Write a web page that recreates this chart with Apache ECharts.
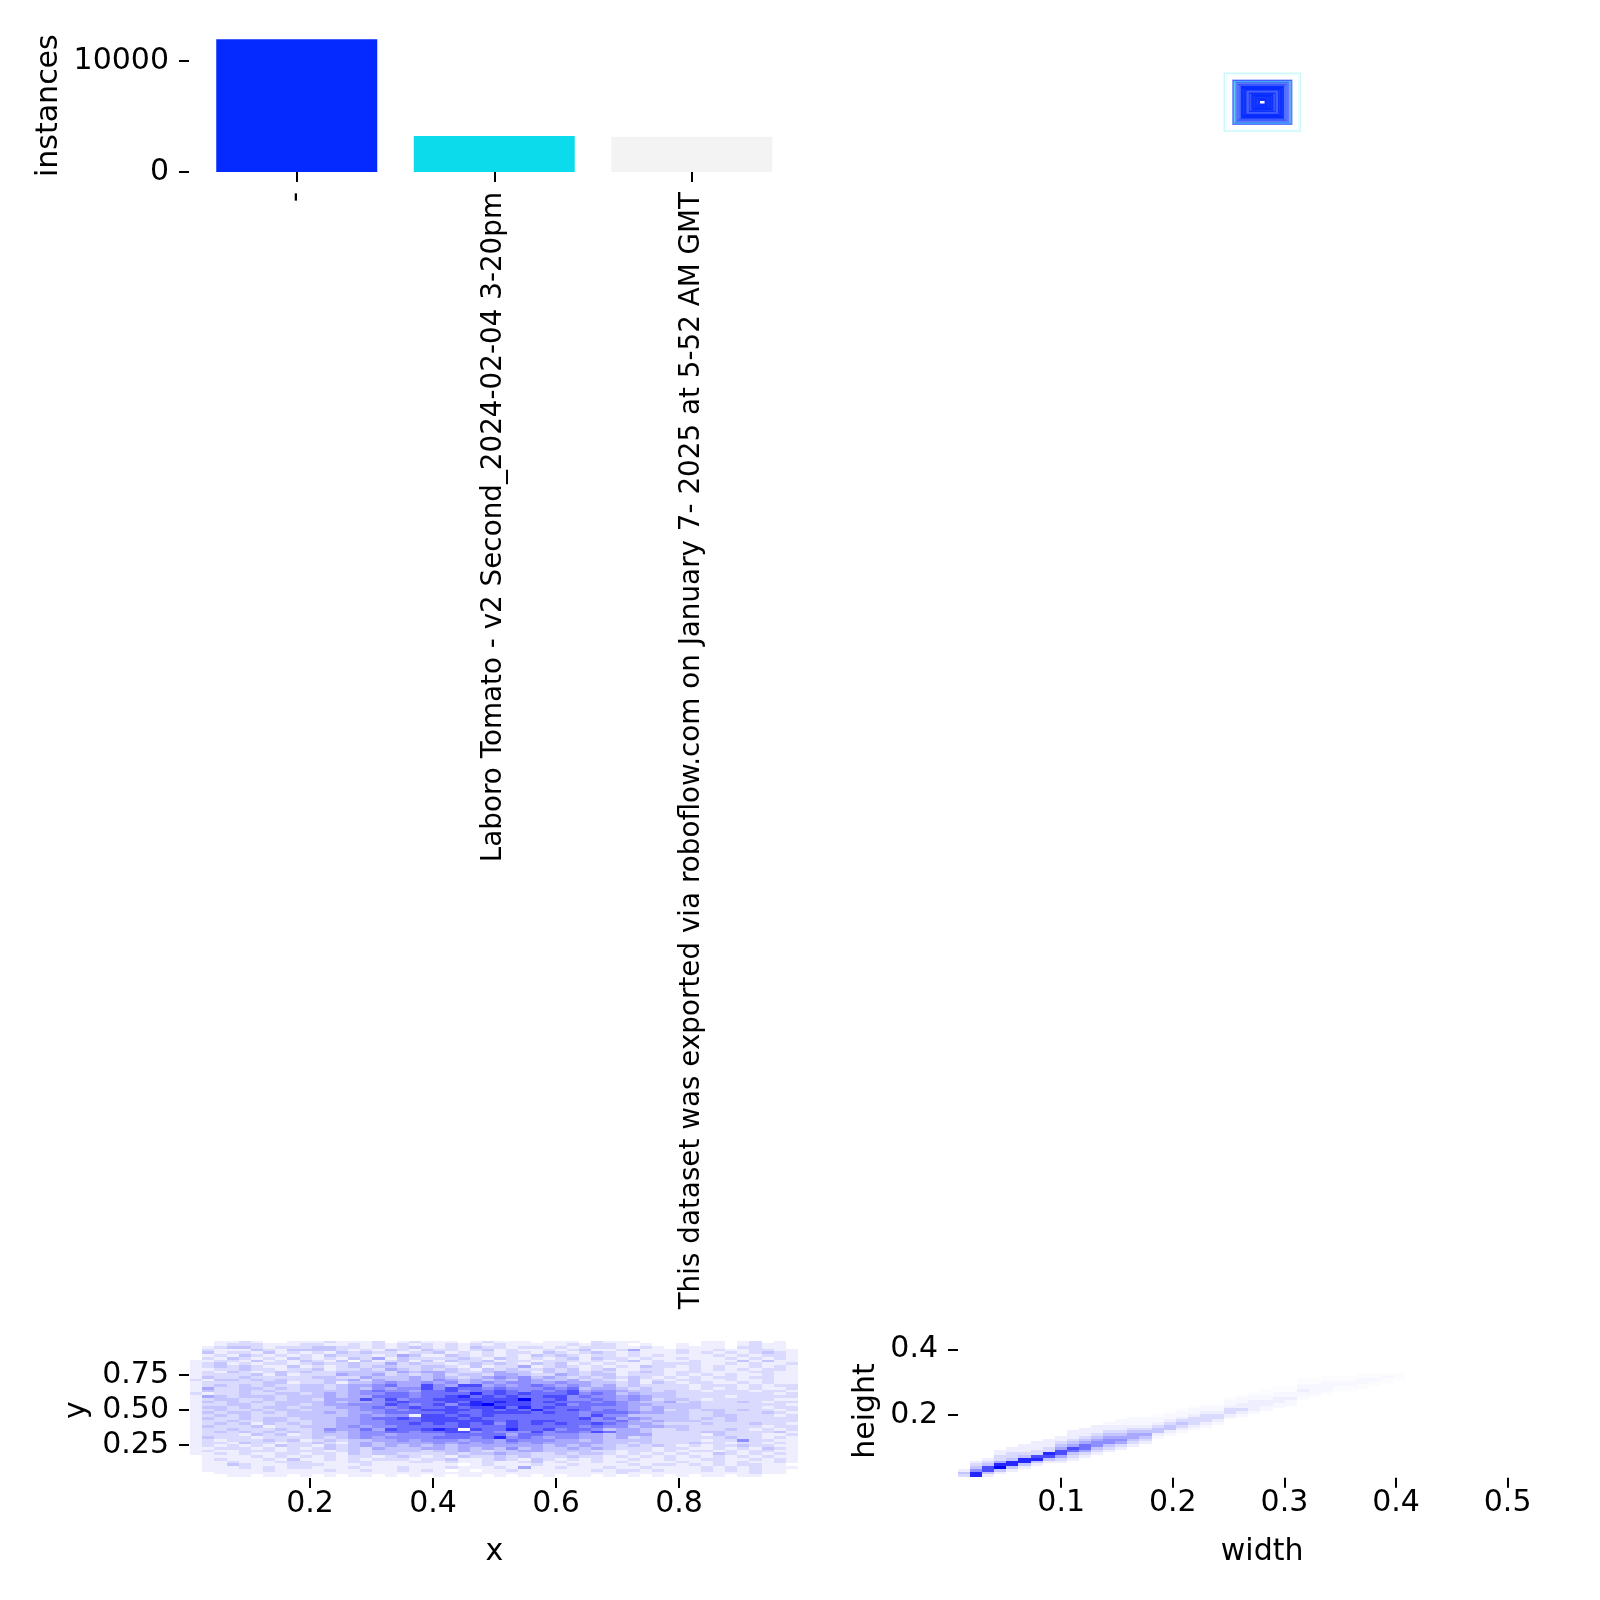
<!DOCTYPE html>
<html><head><meta charset="utf-8">
<style>html,body{margin:0;padding:0;background:#fff}#c{width:1600px;height:1600px}</style>
<script src="https://cdn.jsdelivr.net/npm/echarts@6/dist/echarts.min.js"></script>
</head><body><div id="c"></div>
<script>
const FONT = 'DejaVu Sans';
const FS = 30;

const classNames = ['-', 'Laboro Tomato - v2 Second_2024-02-04 3-20pm', 'This dataset was exported via roboflow.com on January 7- 2025 at 5-52 AM GMT'];
const classCounts = [11950, 3240, 3180];
const classColors = ['#042AFF', '#0BDBEB', '#F3F3F3'];

// shade level -> colour
const levelKeys = '0123456789ab';
const shades = ['#ffffff','#eeeeff','#dadaff','#c4c4ff','#a8a8ff','#8e8eff','#7070ff','#4c4cff','#2626ff','#0000ff','#fcfcff','#f7f7ff'];

// x/y histogram, top row = high y, 50 x bins
const xyRows = [
"0011210011 1211120121 1101211101 1102111000 0011012010",
"0012221112 2112121212 1212121111 1212210100 1011012110",
"0123321222 3322121232 1213221221 2122211210 1111022110",
"0211132133 3321213213 2212312112 1231124111 2112112211",
"0312213121 2132322122 3121212213 2123212111 2121212321",
"0121321212 1322212431 1321212132 3212212121 1112121221",
"0213212132 1213241322 2232132121 2313221211 2111212121",
"1122131213 2130312313 1322312212 2212123121 1211131311",
"1231212212 3223224232 2123232132 3121211122 2211212112",
"1232321131 2123233223 3213122412 3212121322 1212112121",
"1122322122 3122324323 2321323223 2312311221 1212121221",
"1213212323 2233332434 4322343313 2323212321 2211112211",
"1222231312 2243342323 4233244322 4323312221 2121211211",
"1322322222 3322433343 4323454534 3232323212 1212212211",
"2133232322 2334243343 5434343543 3423213121 2211211211",
"1222223312 2313345445 4534545544 5443323132 1221121211",
"1232323223 3234456447 5477454565 4543423222 2122212122",
"1422332323 3234354557 5766565556 5634432322 2121212112",
"1322323223 3334565546 6756676565 6745543323 2212221221",
"2122322332 3434556656 6668676766 6756534333 2222222212",
"1432333233 3434466656 6786767667 7565545433 2222122222",
"1233223233 2444757566 7777777966 7556545423 3212222211",
"1323232333 3434456766 6768787767 6665654334 2322232122",
"1223322332 3445557656 7578977766 7566654433 3322222221",
"1332323323 3344565676 6767786867 6665554343 3322222122",
"1232232332 3334556567 7776767686 6765654342 3233232212",
"1323323233 3434456666 6766777767 6656665443 3223222321",
"1232322233 3334545517 7676766666 6657553333 3223322212",
"1322323323 3344566767 7767666666 6675645433 3232322222",
"1223223322 3344556667 7777767677 6665564343 3322322222",
"1232313232 3344556676 7676757676 7667654432 2232223221",
"1322231223 3345455666 6676667666 6656553443 3222222122",
"1223222322 3544647667 8707668667 5665344322 3222321212",
"1232323232 3434556656 6775655575 6657644322 2233222231",
"1222132312 3334554555 5666664665 5544344422 2213222112",
"1322212222 3234545555 6665685654 5544342322 2222322121",
"1212223231 2323344545 5545546555 4434333322 2212252211",
"1221322122 3213434444 5454545454 4444332322 2322122121",
"1212121322 1323434343 4344444443 4343323232 1212232211",
"1122212121 2323243334 4343435343 3434322212 2112121321",
"1211222122 2123233332 3343233443 3332212212 1221212211",
"1121211221 2213233222 2323343322 3233212121 2113212121",
"0111121212 1212212321 2132232322 2322121212 1212121211",
"0121112131 1212122212 2311232132 1212112112 1122112121",
"0112111222 1112211122 1211211231 2112121111 2112121121",
"0113211122 2111211111 1101211121 1211112122 1212122110",
"0111212122 1112111211 1211121411 2111211211 1121212111",
"0111112111 1211211212 1010112111 1112122121 1121212110",
"0011111111 1111111111 1111111111 1111121111 1111112110",
"0001101101 0101101010 1011010101 0110101010 1011011000"
];

// width/height histogram: for each width bin, the first height bin and the levels going up from it
const whStart = [0,0,0,1,2,3,4,5,5,6,7,8,9,10,11,12,14,15,16,17,18,19,21,22,23,24,25,26,28,29,30,31,31,32,33,34,35];
const whLevels = [
"231","885321","1377321","139842211","138832211","138832111","138722111","137822111",
"1247743211","12367432111","12466432111","12355432111","1235543211b","124543211bb","12344321bbb","1234321bbb",
"b13321bba","b13321bba","b12321bba","b12221bba","b12221bba","b1221bba","b1221bba","b1211bba","b1111bba",
"bb11bbaa","bb11bbaa","bb1bbaa","abb1bbaa","abbbbaa","abbbbaa","aabbaa","aabbaa","aabbaa","aabaa","aaba","aaa"
];

// box outlines, units of a 1000 wide canvas
const boxW = [567,537,440,425,410,395,380,366,351,336,313,291,269,246,224,209,194,179,164,149,127,104,82,60,45];
const boxH = [433,410,328,321,306,298,284,269,261,246,231,216,201,187,172,157,142,134,127,112,97,82,60,45,30];
const boxC = [1,1,0,0,1,0,0,0,0,0,0,0,0,0,0,0,0,0,0,0,0,0,0,0,0];
const boxA = [.2,.08,.5,.5,.7,.5,.5,.55,.55,.6,.95,.95,.95,.95,.75,.75,.95,.8,.8,.95,.95,.95,.95,.95,.95];
const boxL = [1.5,1,1.5,1.5,1.2,1.5,1.5,1.5,1.5,1.5,2,2,2,2,1.2,1.2,1.2,1.2,1.2,2,2,2,2,1.5,1.5];

const xTicksXY = [0.2,0.4,0.6,0.8];
const yTicksXY = [0.25,0.5,0.75];
const xTicksWH = [0.1,0.2,0.3,0.4,0.5];
const yTicksWH = [0.2,0.4];
const yTicksBar = [0,10000];

const xyCells = [];
const xyX0 = 0.005, xyDX = 0.01977, xyY0 = 0.0214, xyDY = 0.0195;
xyRows.forEach((s, i) => {
  const r = s.replace(/ /g, '');
  for (let c = 0; c < r.length; c++) {
    const lv = levelKeys.indexOf(r[c]);
    if (!lv) continue;
    const row = xyRows.length - 1 - i;
    xyCells.push([xyX0 + c * xyDX, xyX0 + (c + 1) * xyDX, xyY0 + row * xyDY, xyY0 + (row + 1) * xyDY, lv]);
  }
});
const whCells = [];
const whX0 = 0.0075, whDX = 0.01084, whY0 = 0.0092, whDY = 0.0084;
whLevels.forEach((s, c) => {
  for (let k = 0; k < s.length; k++) {
    const lv = levelKeys.indexOf(s[k]);
    if (!lv) continue;
    const r = whStart[c] + k;
    whCells.push([whX0 + c * whDX, whX0 + (c + 1) * whDX, whY0 + r * whDY, whY0 + (r + 1) * whDY, lv]);
  }
});
const boxes = boxW.map((w, i) => [500 - w / 2, 500 + w / 2, 500 - boxH[i] / 2, 500 + boxH[i] / 2, boxC[i], boxA[i], boxL[i]]);

function cellItem(params, api) {
  const a = api.coord([api.value(0), api.value(3)]);
  const b = api.coord([api.value(1), api.value(2)]);
  const x = Math.round(a[0]), y = Math.round(a[1]);
  return { type: 'rect', shape: { x, y, width: Math.round(b[0]) - x, height: Math.round(b[1]) - y },
    style: { fill: shades[api.value(4)] } };
}
function boxItem(params, api) {
  const a = api.coord([api.value(0), api.value(3)]);
  const b = api.coord([api.value(1), api.value(2)]);
  return { type: 'rect', shape: { x: a[0], y: a[1], width: b[0] - a[0], height: b[1] - a[1] },
    style: { fill: 'none', stroke: classColors[api.value(4)], lineWidth: api.value(6), opacity: api.value(5) } };
}

const tickStyle = { show: true, length: 10, lineStyle: { color: '#000', width: 2 } };
const label = { color: '#000', fontFamily: FONT, fontSize: FS };
const nameStyle = { color: '#000', fontFamily: FONT, fontSize: FS };

function valAxis(gridIndex, min, max, ticks, fmt, name, margin, pad, extra) {
  return Object.assign({
    type: 'value', gridIndex, min, max, splitLine: { show: false }, axisLine: { show: false },
    axisTick: Object.assign({}, tickStyle, { customValues: ticks }),
    axisLabel: Object.assign({}, label, { customValues: ticks, formatter: fmt, margin, padding: pad, hideOverlap: false }),
    name, nameLocation: 'middle', nameTextStyle: nameStyle
  }, extra || {});
}

const chart = echarts.init(document.getElementById('c'), null, { renderer: 'canvas' });
chart.setOption({
  animation: false,
  backgroundColor: '#fff',
  grid: [
    { left: 198, top: 39.3, width: 592.5, height: 132.7 },
    { left: 1195.3, top: 35.3, width: 134, height: 134 },
    { left: 187, top: 1340, width: 615, height: 140 },
    { left: 949.6, top: 1342, width: 625, height: 138 }
  ],
  xAxis: [
    { type: 'category', gridIndex: 0, data: classNames, axisLine: { show: false },
      axisTick: Object.assign({}, tickStyle, { alignWithLabel: true }),
      axisLabel: Object.assign({}, label, { interval: 0, rotate: 90, margin: 20, fontSize: 27.8 }) },
    { type: 'value', gridIndex: 1, min: 0, max: 1000, show: false },
    valAxis(2, 0, 1, xTicksXY, v => v.toFixed(1), 'x', 11, 0, { offset: -2, nameGap: 59 }),
    valAxis(3, 0, 0.56, xTicksWH, v => v.toFixed(1), 'width', 11, 0, { offset: -2.3, nameGap: 60 })
  ],
  yAxis: [
    valAxis(0, 0, 11950, yTicksBar, v => String(v), 'instances', 20, [4, 0, 0, 0], { offset: 9, nameGap: 125 }),
    { type: 'value', gridIndex: 1, min: 0, max: 1000, show: false },
    valAxis(2, 0, 1, yTicksXY, v => v.toFixed(2), 'y', 20, [3, 0, 0, 0], { offset: -2, nameGap: 97 }),
    valAxis(3, 0, 0.4227, yTicksWH, v => v.toFixed(1), 'height', 20, [3, 0, 0, 0], { offset: -8.4, nameGap: 77 })
  ],
  series: [
    { type: 'bar', xAxisIndex: 0, yAxisIndex: 0, barWidth: 161, silent: true,
      data: classCounts.map((v, i) => ({ value: v, itemStyle: { color: classColors[i] } })) },
    { type: 'custom', xAxisIndex: 1, yAxisIndex: 1, silent: true, clip: false, renderItem: boxItem,
      encode: { x: [0, 1], y: [2, 3] }, data: boxes },
    { type: 'custom', xAxisIndex: 2, yAxisIndex: 2, silent: true, clip: false, renderItem: cellItem,
      encode: { x: [0, 1], y: [2, 3] }, data: xyCells },
    { type: 'custom', xAxisIndex: 3, yAxisIndex: 3, silent: true, clip: false, renderItem: cellItem,
      encode: { x: [0, 1], y: [2, 3] }, data: whCells }
  ]
});
</script></body></html>
